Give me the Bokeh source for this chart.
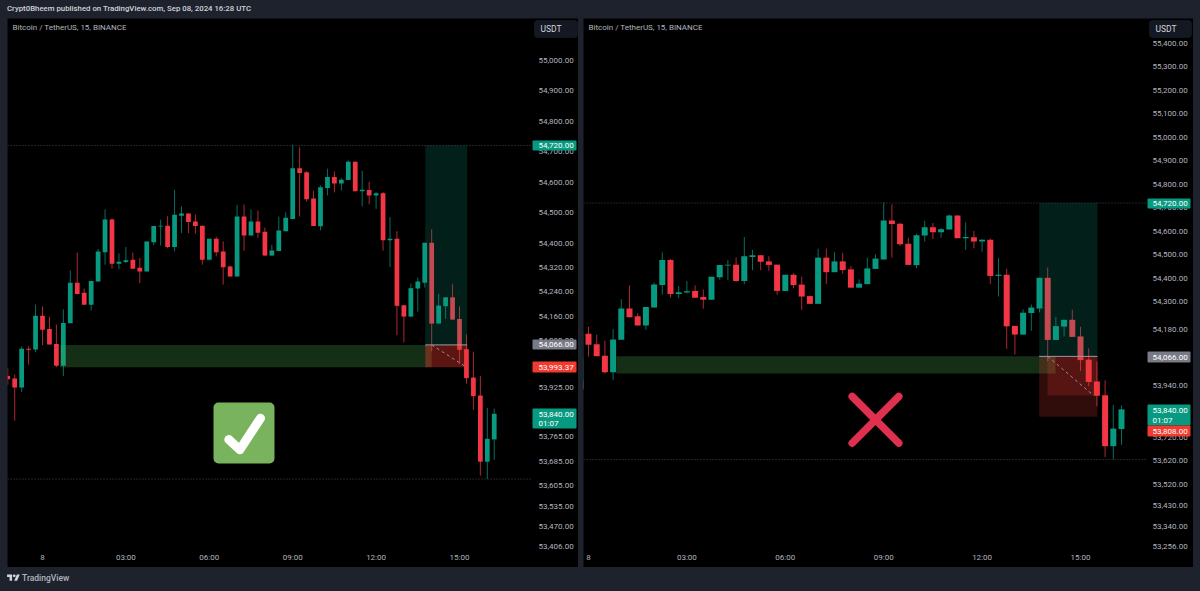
from bokeh.embed import file_html
from bokeh.resources import INLINE
from bokeh.plotting import figure
from bokeh.layouts import column, row
from bokeh.models import (ColumnDataSource, FixedTicker, Label, BoxAnnotation, Div, Spacer,
                          GlobalInlineStyleSheet, Range1d)

# --- Candle data (BTC/USDT 15 min, bar 0 = 00:00 on the 8th) ---
bar_index = list(range(-5, 66))
opens = [53964,53956,53926,54053,54051,54162,54118,54069,53998,54137,54270,54237,54198,54274,54370,54477,54332,54338,54345,54319,
         54307,54403,54454,54457,54387,54490,54497,54471,54457,54345,54414,54372,54323,54290,54487,54425,54471,54437,54359,54374,
         54439,54479,54645,54632,54546,54455,54581,54617,54595,54607,54667,54570,54574,54556,54563,54409,54414,54196,54159,54251,
         54270,54401,54136,54193,54222,54151,54052,53959,53900,53683,53756]
highs = [53989,53969,54061,54061,54198,54192,54158,54133,54183,54310,54369,54251,54276,54381,54510,54481,54366,54387,54369,54351,
         54405,54456,54477,54488,54575,54520,54497,54493,54457,54414,54421,54406,54326,54525,54526,54510,54507,54451,54394,54487,
         54501,54723,54714,54636,54572,54589,54644,54635,54613,54671,54667,54637,54601,54567,54568,54485,54439,54196,54267,54287,
         54401,54445,54234,54222,54265,54192,54100,54044,53964,53859,53857]
lows = [53935,53818,53911,54001,54042,54065,54067,53993,53964,54137,54232,54198,54179,54274,54329,54316,54314,54334,54316,54269,
        54307,54393,54392,54383,54373,54433,54433,54431,54329,54343,54356,54264,54290,54290,54375,54425,54418,54359,54359,54374,
        54439,54479,54487,54537,54456,54442,54556,54566,54572,54607,54570,54520,54527,54512,54375,54321,54098,54074,54157,54175,
        54254,54045,54136,54151,54149,54004,53939,53853,53637,53626,53689]
closes = [53953,53926,54053,54050,54162,54116,54067,53998,54138,54270,54233,54198,54276,54372,54477,54332,54339,54344,54316,54307,
          54405,54456,54457,54387,54493,54497,54469,54456,54345,54414,54370,54321,54290,54487,54425,54471,54434,54359,54376,54441,
          54483,54645,54630,54544,54456,54583,54617,54595,54608,54667,54570,54575,54556,54563,54409,54414,54194,54159,54252,54274,
          54401,54136,54195,54222,54149,54050,53957,53898,53683,53758,53840]

# --- Axis ticks ---
hour_ticks = [0, 12, 24, 36, 48, 60]
hour_labels = ["8", "03:00", "06:00", "09:00", "12:00", "15:00"]
left_price_ticks = [55000,54900,54800,54700,54600,54500,54400,54320,54240,54160,54080,54000,53925,53765,53685,53605,53535,53470,53406]
right_price_ticks = [55400,55300,55200,55100,55000,54900,54800,54700,54600,54500,54400,54300,54180,54060,53940,53720,53620,53520,53430,53340,53256]

# --- Levels and position drawings ---
target_price = 54720
entry_price = 54066
zone_low_price = 53993
extreme_low_price = 53626
right_stop_price = 53808
right_inner_stop_price = 53899

# --- Texts ---
header_text = "Crypt0Bheem published on TradingView.com, Sep 08, 2024 16:28 UTC"
legend_text = "Bitcoin / TetherUS, 15, BINANCE"
currency_text = "USDT"

GREEN, RED = "#089981", "#f23645"
TAG_RED = "#f23b30"
FONT = "Roboto"
TXT = "#b2b5be"
PANEL = "#1e222d"

source = ColumnDataSource(dict(
    x=bar_index, open=opens, high=highs, low=lows, close=closes,
    top=[max(o, c) for o, c in zip(opens, closes)],
    bottom=[min(o, c) for o, c in zip(opens, closes)],
    color=[GREEN if c >= o else RED for o, c in zip(opens, closes)],
))


def make_panel(width, xr, yr, ticks, body_w, x_axis_price, y_axis_bar):
    p = figure(width=width, height=549, x_range=Range1d(*xr), y_range=Range1d(*yr),
               output_backend="svg", toolbar_location=None, y_axis_location="right",
               background_fill_color="#000000", border_fill_color="#000000",
               min_border_left=0, min_border_right=0, min_border_top=0, min_border_bottom=0)
    p.grid.visible = False
    p.outline_line_color = None
    xax, yax = p.xaxis[0], p.yaxis[0]
    xax.fixed_location = x_axis_price
    yax.fixed_location = y_axis_bar
    xax.ticker = FixedTicker(ticks=hour_ticks)
    xax.major_label_overrides = dict(zip(hour_ticks, hour_labels))
    xax.major_label_standoff = 0
    yax.ticker = FixedTicker(ticks=ticks)
    yax.major_label_overrides = {t: f"{t:,.2f}" for t in ticks}
    yax.major_label_standoff = 0
    for ax in (xax, yax):
        ax.axis_line_color = None
        ax.major_tick_line_color = None
        ax.minor_tick_line_color = None
        ax.major_tick_out = 0
        ax.major_tick_in = 0
        ax.major_label_text_color = TXT
        ax.major_label_text_font = FONT
        ax.major_label_text_font_size = "8px"
    p.segment("x", "high", "x", "low", source=source, color="color", line_width=1, line_alpha=0.72)
    p.vbar("x", body_w, "top", "bottom", source=source, fill_color="color", line_color=None)
    return p


def level(p, x0, x1, price, color="#434651"):
    p.line([x0, x1], [price, price], line_color=color, line_width=1, line_dash=[1, 2])


def box(p, l, r, y0, y1, color, radius=2, border=None, lvl="overlay"):
    p.add_layout(BoxAnnotation(left=l, right=r, top=y0, bottom=y1, left_units="canvas", right_units="canvas",
                               top_units="canvas", bottom_units="canvas", fill_color=color, fill_alpha=1,
                               line_color=border, border_radius=radius, level=lvl))


def text(p, x, y, s, color="#ffffff", weight="normal", size="8px"):
    p.add_layout(Label(x=x, y=y, x_units="canvas", y_units="canvas", text=s, text_color=color,
                       text_font=FONT, text_font_size=size, text_font_style=weight,
                       text_baseline="middle", level="overlay"))


def lx(px):
    return (px - 42) / 6.95


def ly(py):
    return target_price - (py - 145) / 0.3049


def rx(px):
    return (px - 588) / 8.2


def ry(py):
    return target_price - (py - 202.5) / 0.2345


# ---------- left chart ----------
L = make_panel(571, (lx(7), lx(578)), (ly(567), ly(18)), left_price_ticks, 0.68, ly(552), lx(538))
L.quad([2.5], [56.0], [entry_price], [zone_low_price], fill_color="#4caf50", fill_alpha=0.27, line_color=None)
L.quad([55.07], [61.1], [target_price], [entry_price], fill_color=GREEN, fill_alpha=0.2, line_color=None)
L.quad([55.07], [61.1], [entry_price], [zone_low_price], fill_color=TAG_RED, fill_alpha=0.38, line_color=None)
L.line([55.07, 61.1], [entry_price, entry_price], line_color="#9a9ca5", line_width=1)
L.line([56, 61], [entry_price, zone_low_price], line_color="#8f8f96", line_width=1, line_dash=[3, 3])
level(L, lx(7), lx(531), target_price)
level(L, lx(7), lx(531), extreme_low_price)

box(L, 206, 267, 384, 445, "#79b35d", 5, lvl="annotation")
L.line([lx(228.3), lx(239.3), lx(260)], [ly(439), ly(449.3), ly(417.7)], line_color="#ffffff", line_width=9,
       line_cap="round", line_join="round", level="overlay")
text(L, 5, 9, legend_text, TXT)
box(L, 527, 570, 2, 19, "#141823", 3, "#2a2e39")
text(L, 533, 10.8, currency_text, "#d1d4dc", size="8.5px")
for s, top, bottom, col in [("54,720.00", 122, 132, GREEN), ("54,066.00", 321, 331, "#787b86"),
                            ("53,993.37", 343, 354, TAG_RED), ("53,840.00", 390, 410, GREEN)]:
    box(L, 525, 569, top, bottom, col, 1)
    text(L, 531, (top + 5.5) if s == "53,840.00" else (top + bottom) / 2, s)
text(L, 531, 404.5, "01:07")

# ---------- right chart ----------
R = make_panel(610, (rx(583), rx(1193)), (ry(567), ry(18)), right_price_ticks, 0.73, ry(552), rx(1152))
R.quad([3.4], [56.95], [entry_price], [zone_low_price], fill_color="#4caf50", fill_alpha=0.27, line_color=None)
R.quad([54.96], [62.07], [target_price], [entry_price], fill_color=GREEN, fill_alpha=0.2, line_color=None)
R.quad([54.96], [62.07], [entry_price], [right_stop_price], fill_color=TAG_RED, fill_alpha=0.2, line_color=None)
R.quad([55.97], [62.07], [entry_price], [right_inner_stop_price], fill_color=TAG_RED, fill_alpha=0.2, line_color=None)
R.line([54.96, 62.07], [entry_price, entry_price], line_color="#9a9ca5", line_width=1)
R.line([56, 61.6], [entry_price, right_inner_stop_price], line_color="#8f8f96", line_width=1, line_dash=[3, 3])
level(R, rx(583), rx(1147), target_price)
level(R, rx(583), rx(1147), extreme_low_price)

R.line([rx(851.7), rx(898.3)], [ry(396), ry(442.7)], line_color="#e0304f", line_width=7.5, line_cap="round")
R.line([rx(898.3), rx(851.7)], [ry(396), ry(442.7)], line_color="#e0304f", line_width=7.5, line_cap="round")
text(R, 5, 9, legend_text, TXT)
box(R, 566, 608, 2, 19, "#141823", 3, "#2a2e39")
text(R, 572, 10.8, currency_text, "#d1d4dc", size="8.5px")
for s, top, bottom, col in [("54,720.00", 180, 190, GREEN), ("54,066.00", 333, 344, "#787b86"),
                            ("53,840.00", 386, 407, GREEN), ("53,808.00", 407, 418, TAG_RED)]:
    box(R, 564, 607, top, bottom, col, 1)
    text(R, 569, (top + 5.5) if s == "53,840.00" else (top + bottom) / 2, s)
text(R, 569, 401.5, "01:07")

# ---------- header / footer ----------
header = Div(text=f'<div style="position:absolute;left:7px;top:4px;white-space:nowrap;font:500 7.8px {FONT};color:#d1d4dc">{header_text}</div>',
             width=1200, height=18, margin=0)
logo = ('<svg width="13" height="10" viewBox="0 0 36 28" style="position:absolute;left:7px;top:6px">'
        '<path fill="#d1d4dc" d="M14 22H7V11H0V4h14v18zM28 22h-8l7.5-18h8L28 22z"/><circle fill="#d1d4dc" cx="20" cy="8" r="4"/></svg>')
footer = Div(text=f'{logo}<div style="position:absolute;left:22px;top:6px;white-space:nowrap;font:500 8.5px {FONT};color:{TXT}">TradingView</div>',
             width=1200, height=24, margin=0)

page = column(header, row(Spacer(width=7, height=549), L, Spacer(width=5, height=549), R, Spacer(width=7, height=549), spacing=0),
              footer, spacing=0,
              stylesheets=[GlobalInlineStyleSheet(css=f"html,body{{background:{PANEL};}}")])

open("out.html", "w").write(file_html(page, INLINE))
